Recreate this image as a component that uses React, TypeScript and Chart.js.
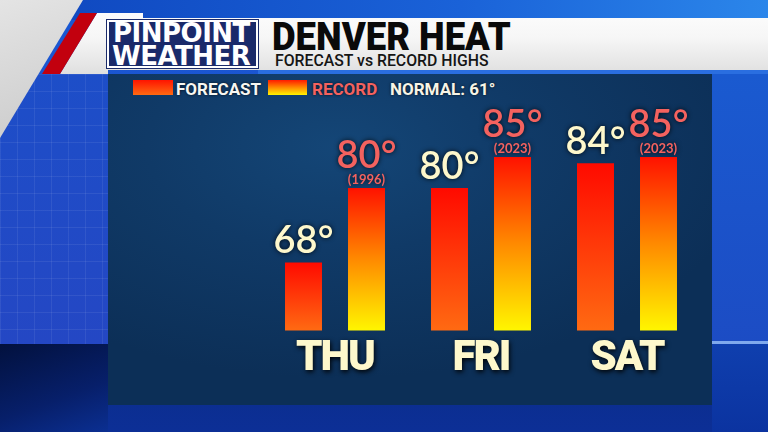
import React, { useEffect, useRef } from "react";
import { Chart, registerables } from "chart.js";

Chart.register(...registerables);

// ---- data ----
const days = ["THU", "FRI", "SAT"];
const forecastHighs = [68, 80, 84];
const recordHighs = [80, 85, 85];
const recordYears = ["1996", "2023", "2023"];
const seriesNames = ["FORECAST", "RECORD"];
const normalHigh = 61;
const titleText = "DENVER HEAT";
const subtitleText = "FORECAST vs RECORD HIGHS";

const CREAM = "#fef8cc";
const SALMON = "#f4625f";

function gradientFor(context: any, stops: [number, string][]) {
  const chart = context.chart;
  const area = chart.chartArea;
  if (!area || context.raw == null) return stops[0][1];
  const yScale = chart.scales.y;
  const top = yScale.getPixelForValue(context.raw);
  const bottom = yScale.getPixelForValue(yScale.min);
  const g = chart.ctx.createLinearGradient(0, top, 0, bottom);
  stops.forEach(([o, c]) => g.addColorStop(o, c));
  return g;
}

const forecastStops: [number, string][] = [
  [0, "#ff0a00"],
  [1, "#ff6a12"],
];
const recordStops: [number, string][] = [
  [0, "#ff1200"],
  [0.5, "#ff8a00"],
  [1, "#fff600"],
];

const tickShadow = {
  id: "tickShadow",
  beforeDraw(chart: any) {
    const ctx = chart.ctx;
    ctx.save();
    ctx.shadowColor = "rgba(0,0,0,0.95)";
    ctx.shadowBlur = 5;
    ctx.shadowOffsetX = 1;
    ctx.shadowOffsetY = 2;
    try {
      (ctx as any).letterSpacing = "-2px";
    } catch (e) {}
  },
  beforeDatasetsDraw(chart: any) {
    chart.ctx.restore();
  },
};

const barLabels = {
  id: "barLabels",
  afterDatasetsDraw(chart: any) {
    const ctx = chart.ctx;
    ctx.save();
    ctx.textAlign = "center";
    ctx.textBaseline = "alphabetic";
    ctx.shadowColor = "rgba(0,0,0,0.85)";
    ctx.shadowBlur = 5;
    chart.data.datasets.forEach((ds: any, di: number) => {
      const meta = chart.getDatasetMeta(di);
      meta.data.forEach((bar: any, i: number) => {
        const v = ds.data[i];
        if (di === 0) {
          ctx.fillStyle = CREAM;
          ctx.font = "600 38px Lato";
          ctx.fillText(v + "°", bar.x, bar.y - 9);
        } else {
          ctx.fillStyle = SALMON;
          ctx.font = "bold 13px Lato";
          ctx.fillText("(" + recordYears[i] + ")", bar.x, bar.y - 4);
          ctx.font = "600 38px Lato";
          ctx.fillText(v + "°", bar.x, bar.y - 20);
        }
      });
    });
    ctx.restore();
  },
};

function ChartCanvas() {
  const ref = useRef<HTMLCanvasElement | null>(null);
  useEffect(() => {
    if (!ref.current) return;
    const chart = new Chart(ref.current, {
      type: "bar",
      data: {
        labels: days,
        datasets: [
          {
            label: seriesNames[0],
            data: forecastHighs,
            backgroundColor: (c: any) => gradientFor(c, forecastStops),
            borderWidth: 0,
          },
          {
            label: seriesNames[1],
            data: recordHighs,
            backgroundColor: (c: any) => gradientFor(c, recordStops),
            borderWidth: 0,
          },
        ],
      },
      options: {
        responsive: false,
        animation: false,
        layout: { padding: { left: 262, right: 68, top: 64, bottom: 43 } },
        datasets: { bar: { categoryPercentage: 0.863, barPercentage: 0.587 } } as any,
        plugins: { legend: { display: false }, tooltip: { enabled: false }, title: { display: false } },
        scales: {
          x: {
            grid: { display: false, drawTicks: false },
            border: { display: false },
            ticks: {
              color: CREAM,
              padding: 4,
              font: { family: "Roboto, sans-serif", size: 42, weight: 900 as any },
            },
          },
          y: { display: false, min: 57, max: 100 },
        },
      },
      plugins: [tickShadow, barLabels],
    });
    return () => chart.destroy();
  }, []);
  return (
    <canvas
      ref={ref}
      width={768}
      height={432}
      style={{ position: "absolute", left: 0, top: 0, width: 768, height: 432 }}
    />
  );
}

export default function App() {
  const abs = (s: React.CSSProperties): React.CSSProperties => ({ position: "absolute", ...s });
  const legendText: React.CSSProperties = {
    position: "absolute",
    top: 81,
    fontFamily: "Roboto, sans-serif",
    fontWeight: 700,
    fontSize: 17,
    lineHeight: "17px",
    textShadow: "0 0 3px rgba(0,0,0,0.8)",
    whiteSpace: "nowrap",
  };
  return (
    <div
      style={{
        position: "fixed",
        left: 0,
        top: 0,
        width: 768,
        height: 432,
        overflow: "hidden",
        background:
          "linear-gradient(180deg, #1858d4 0%, #1e52cc 40%, #1d47c2 78%, #0b2c88 80%, #0c2f96 100%)",
      }}
    >
      {/* top sky strip */}
      <div style={abs({ left: 0, top: 0, width: 768, height: 20, background: "linear-gradient(90deg,#0e45bd,#1a62d8 60%,#2b86ea)" })} />
      {/* subtle grid on left */}
      <div
        style={abs({
          left: 0,
          top: 74,
          width: 108,
          height: 270,
          background:
            "repeating-linear-gradient(90deg, rgba(255,255,255,0.07) 0 1px, transparent 1px 17px), repeating-linear-gradient(180deg, rgba(255,255,255,0.07) 0 1px, transparent 1px 17px), linear-gradient(180deg,#1d4ec8,#2447c4)",
        })}
      />
      <div style={abs({ left: 0, top: 344, width: 108, height: 88, background: "linear-gradient(160deg,#02113e,#071f6a 60%,#0b2f92)" })} />
      <div style={abs({ left: 712, top: 74, width: 56, height: 270, background: "linear-gradient(180deg,#1a5ad0,#1c4cc4)" })} />
      <div style={abs({ left: 712, top: 341, width: 56, height: 3, background: "rgba(170,210,255,0.7)" })} />
      <div style={abs({ left: 712, top: 344, width: 56, height: 88, background: "linear-gradient(180deg,#0f3fae,#0b33a0)" })} />
      {/* gray triangle */}
      <div style={abs({ left: 0, top: 0, width: 90, height: 140, background: "linear-gradient(160deg,#e4e4e4,#c9c9c9)", clipPath: "polygon(0 0, 83px 0, 0 138px)" })} />
      {/* white tab + header band */}
      <div
        style={abs({
          left: 0,
          top: 0,
          width: 768,
          height: 76,
          background: "linear-gradient(180deg,#ffffff 0%,#f6f6f6 50%,#dedede 100%)",
          clipPath: "polygon(97px 13px, 143px 13px, 143px 18px, 768px 18px, 768px 70px, 108px 70px, 108px 74px, 60px 74px)",
        })}
      />
      {/* red stripe */}
      <div style={abs({ left: 0, top: 0, width: 100, height: 76, background: "#c2000e", clipPath: "polygon(80px 13px, 97px 13px, 60px 74px, 42px 74px)" })} />
      {/* blue line under header */}
      <div style={abs({ left: 258, top: 70, width: 510, height: 4, background: "#2a6ee0" })} />
      {/* panel */}
      <div
        style={abs({
          left: 108,
          top: 74,
          width: 604,
          height: 331,
          background: "radial-gradient(ellipse 70% 70% at 38% 22%, #144677 0%, #103a67 45%, #0c2f57 100%)",
        })}
      />
      {/* logo */}
      <div
        style={abs({
          left: 107,
          top: 20,
          width: 147,
          height: 44,
          background: "#1a2a6a",
          border: "2px solid #ffffff",
          boxShadow: "0 0 0 1px #1a2a6a",
        })}
      />
      <div style={abs({ left: 113, top: 20, fontFamily: "'DejaVu Sans', sans-serif", fontWeight: 700, fontSize: 26, lineHeight: "26px", color: "#ffffff", letterSpacing: -0.5 })}>
        PINPOINT
      </div>
      <div style={abs({ left: 112, top: 43, fontFamily: "'DejaVu Sans', sans-serif", fontWeight: 700, fontSize: 26, lineHeight: "26px", color: "#ffffff", letterSpacing: -0.5 })}>
        WEATHER
      </div>
      {/* titles */}
      <div
        style={abs({
          left: 272,
          top: 18,
          fontFamily: "Roboto, sans-serif",
          fontWeight: 900,
          fontSize: 38,
          lineHeight: "38px",
          color: "#0a0a0a",
          transform: "scaleX(0.96)",
          transformOrigin: "left top",
          whiteSpace: "nowrap",
        })}
      >
        {titleText}
      </div>
      <div
        style={abs({
          left: 275,
          top: 52,
          fontFamily: "Roboto, sans-serif",
          fontWeight: 500,
          fontSize: 17,
          lineHeight: "17px",
          color: "#151515",
          transform: "scaleX(0.93)",
          transformOrigin: "left top",
          whiteSpace: "nowrap",
        })}
      >
        {subtitleText}
      </div>
      {/* legend */}
      <div style={abs({ left: 133, top: 80, width: 40, height: 15, background: "linear-gradient(180deg,#ff1400,#ff6a12)" })} />
      <div style={abs({ left: 268, top: 80, width: 39, height: 15, background: "linear-gradient(180deg,#ff1a00,#ff8a00 50%,#fff400)" })} />
      <div style={{ ...legendText, left: 176, color: "#f7f7f2" }}>{seriesNames[0]}</div>
      <div style={{ ...legendText, left: 312, color: SALMON }}>{seriesNames[1]}</div>
      <div style={{ ...legendText, left: 390, color: "#f7f4e6" }}>{"NORMAL: " + normalHigh + "°"}</div>
      <ChartCanvas />
    </div>
  );
}
